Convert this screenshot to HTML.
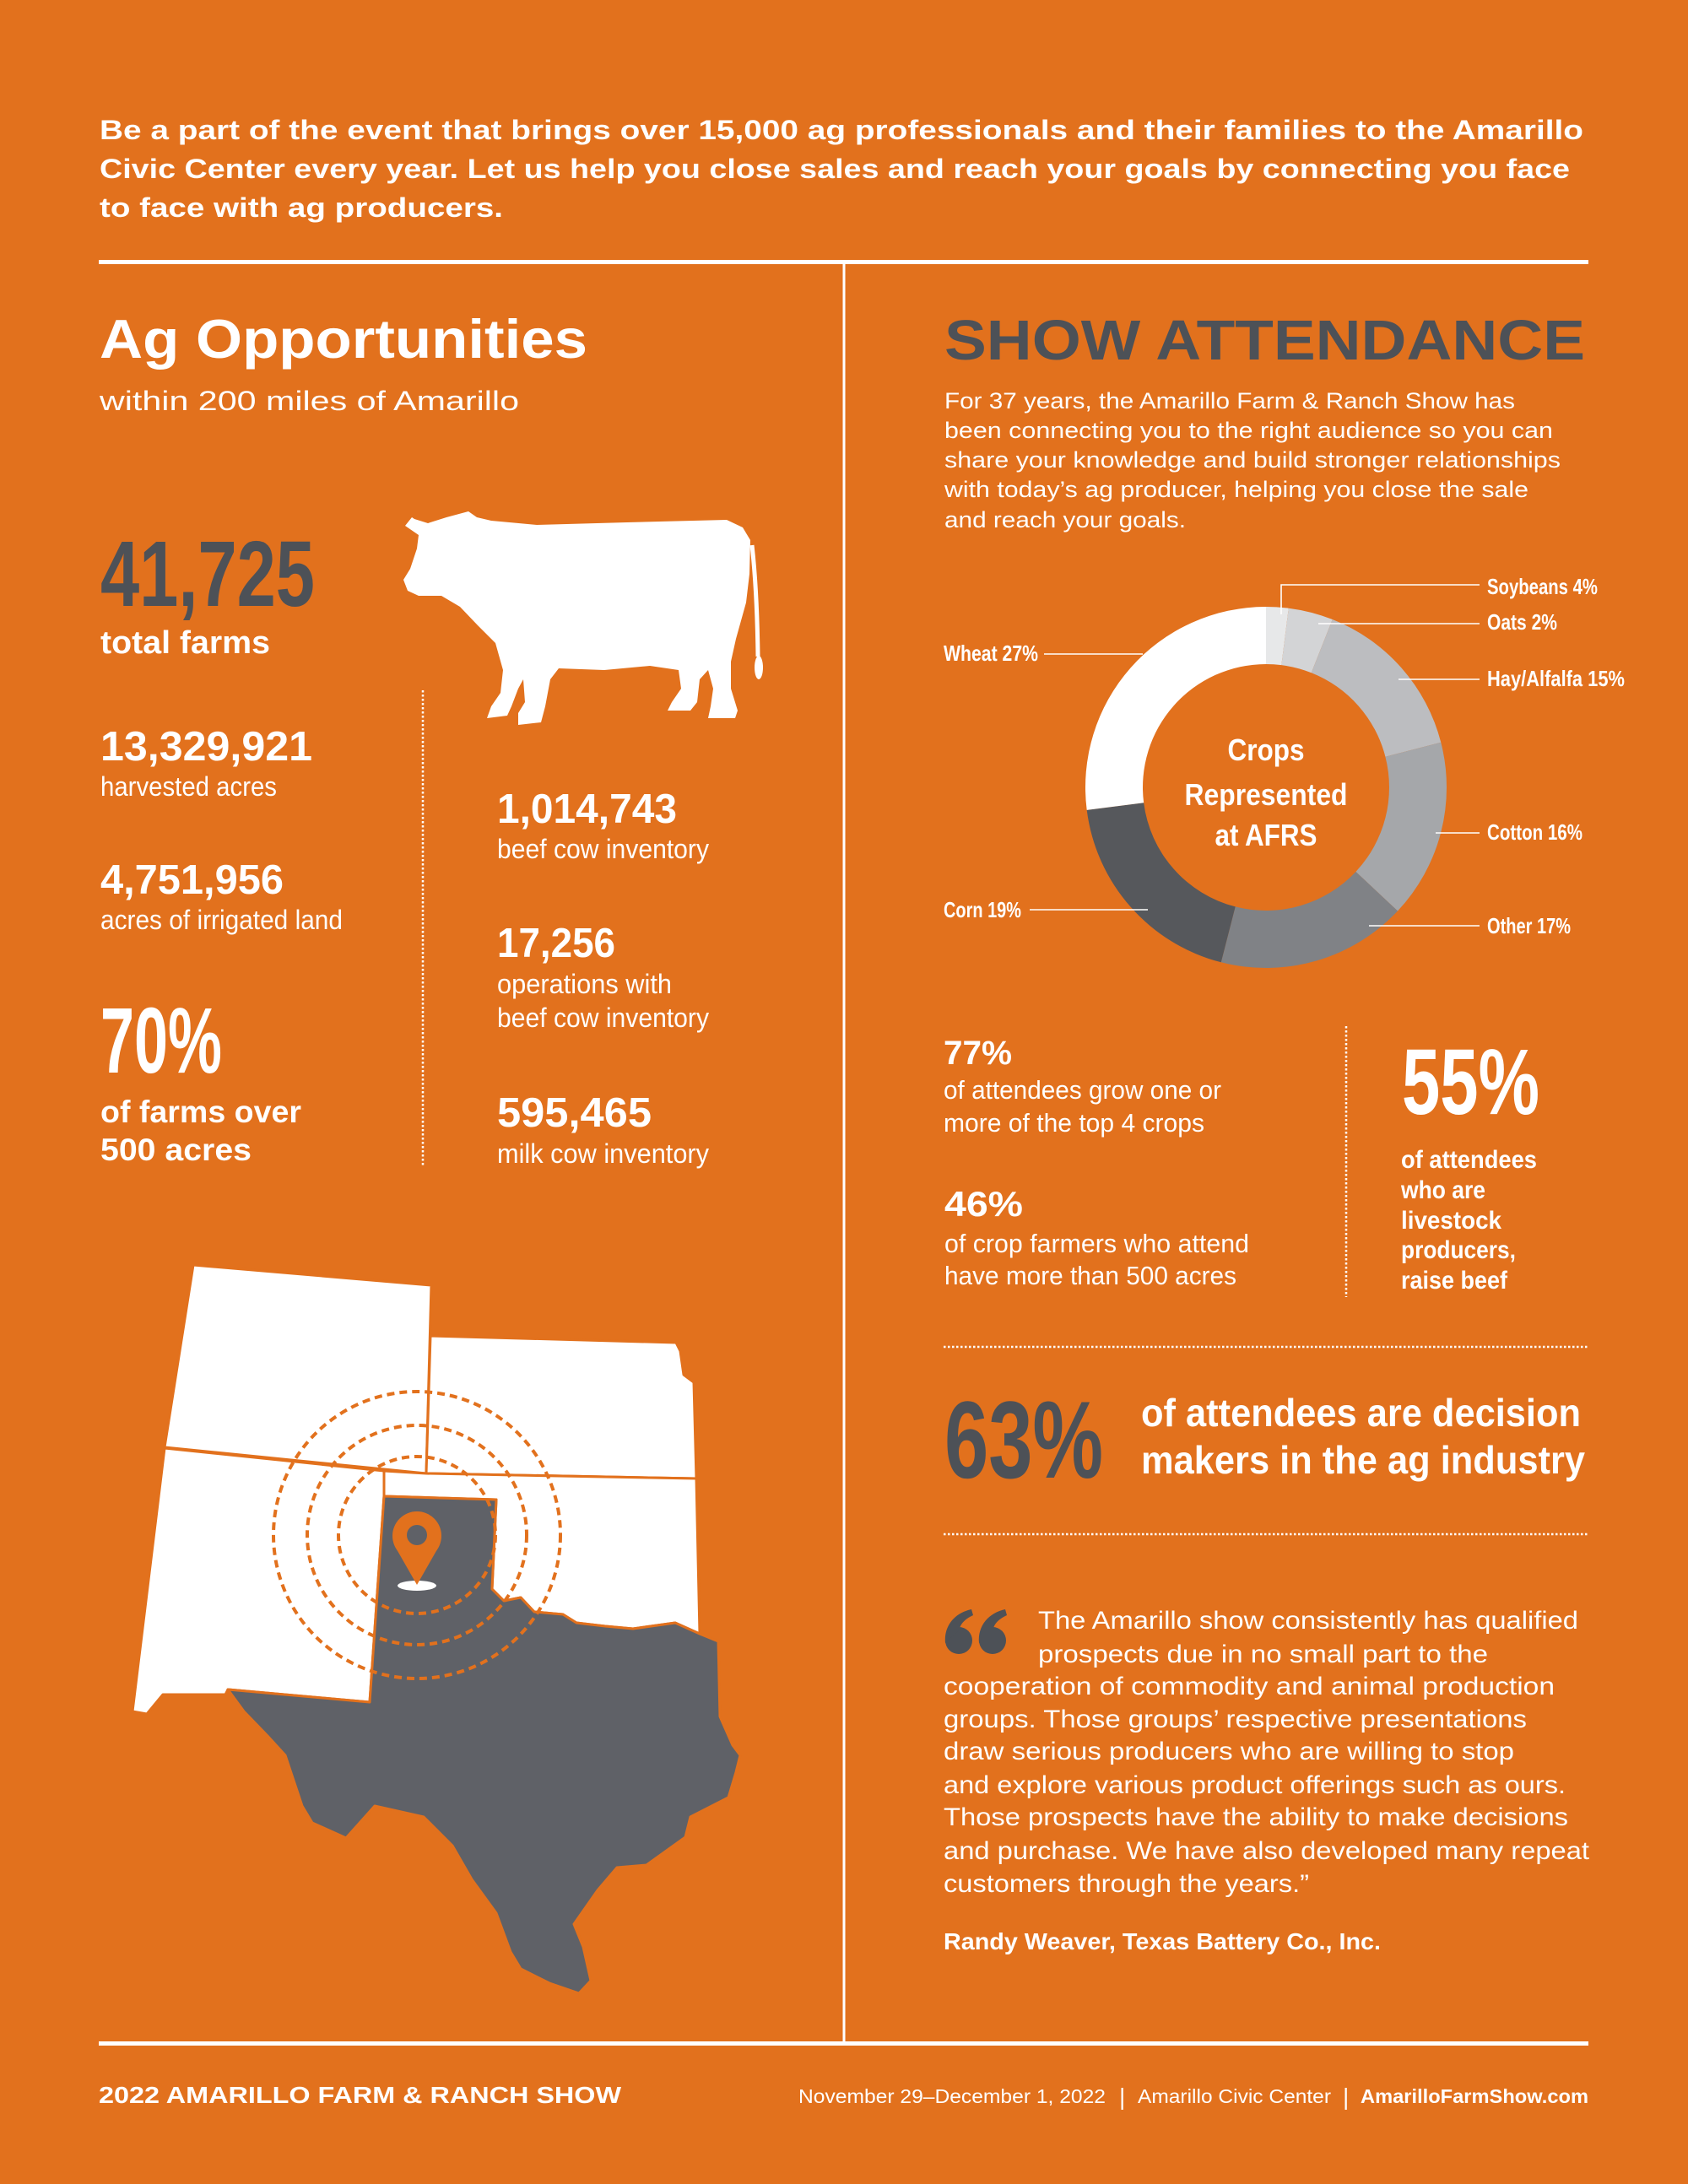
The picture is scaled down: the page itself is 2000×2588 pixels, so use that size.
<!DOCTYPE html>
<html>
<head>
<meta charset="utf-8">
<style>
html,body{margin:0;padding:0;background:#e2711d;}
svg{display:block;}
text{font-family:"Liberation Sans",sans-serif;}
.n{font-family:"Liberation Sans Narrow","Liberation Sans",sans-serif;}
.w{fill:#ffffff;}
.g{fill:#4d5157;}
.b{font-weight:bold;}
</style>
</head>
<body>
<svg width="2000" height="2588" viewBox="0 0 2000 2588" xmlns="http://www.w3.org/2000/svg">
<rect x="0" y="0" width="2000" height="2588" fill="#e2711d"/>

<!-- Intro -->
<text class="w b" x="118" y="165" font-size="32" textLength="1758" lengthAdjust="spacingAndGlyphs">Be a part of the event that brings over 15,000 ag professionals and their families to the Amarillo</text>
<text class="w b" x="118" y="211" font-size="32" textLength="1742" lengthAdjust="spacingAndGlyphs">Civic Center every year. Let us help you close sales and reach your goals by connecting you face</text>
<text class="w b" x="118" y="257" font-size="32" textLength="478" lengthAdjust="spacingAndGlyphs">to face with ag producers.</text>

<!-- Rules -->
<rect x="117" y="308" width="1765" height="5" fill="#fff"/>
<rect x="998.5" y="310" width="3" height="2112" fill="#fff"/>
<rect x="117" y="2419" width="1765" height="5" fill="#fff"/>

<!-- Left header -->
<text class="w b" x="118" y="424" font-size="65" textLength="578" lengthAdjust="spacingAndGlyphs">Ag Opportunities</text>
<text class="w" x="118" y="486" font-size="32" textLength="497" lengthAdjust="spacingAndGlyphs">within 200 miles of Amarillo</text>

<!-- Right header -->
<text class="g b" x="1119" y="426" font-size="67" textLength="759" lengthAdjust="spacingAndGlyphs">SHOW ATTENDANCE</text>
<text class="w" x="1119" y="484" font-size="27" textLength="676" lengthAdjust="spacingAndGlyphs">For 37 years, the Amarillo Farm &amp; Ranch Show has</text>
<text class="w" x="1119" y="519" font-size="27" textLength="721" lengthAdjust="spacingAndGlyphs">been connecting you to the right audience so you can</text>
<text class="w" x="1119" y="554" font-size="27" textLength="730" lengthAdjust="spacingAndGlyphs">share your knowledge and build stronger relationships</text>
<text class="w" x="1119" y="589" font-size="27" textLength="692" lengthAdjust="spacingAndGlyphs">with today’s ag producer, helping you close the sale</text>
<text class="w" x="1119" y="625" font-size="27" textLength="286" lengthAdjust="spacingAndGlyphs">and reach your goals.</text>

<!-- Cow -->
<path fill="#fff" d="M491,615 L507,620 L529,613 L555,606 L565,613 L582,617 L636,622 L743,619 L861,616 L880,625 L889,640 L888,680 L884,714 L872,757 L866,784 L866,816 L874,842 L871,851 L839,851 L842,837 L845,816 L839,794 L829,805 L826,832 L818,842 L791,842 L796,832 L807,816 L804,794 L770,789 L716,794 L662,792 L652,805 L646,837 L641,856 L614,859 L614,845 L622,832 L620,805 L614,816 L606,837 L601,848 L577,851 L582,837 L593,821 L596,794 L587,762 L566,741 L545,719 L523,706 L496,706 L483,700 L478,687 L486,674 L494,650 L496,634 L480,623 L488,613 Z"/>
<path d="M891,646 Q897,700 898,778" stroke="#fff" stroke-width="5" fill="none"/>
<ellipse cx="899" cy="791" rx="5" ry="14" fill="#fff"/>

<!-- Left stats -->
<text class="g b n" x="119" y="718" font-size="110" textLength="254" lengthAdjust="spacingAndGlyphs">41,725</text>
<text class="w b n" x="119" y="774" font-size="38" textLength="201" lengthAdjust="spacingAndGlyphs">total farms</text>
<text class="w b n" x="119" y="901" font-size="49" textLength="251" lengthAdjust="spacingAndGlyphs">13,329,921</text>
<text class="w n" x="119" y="943" font-size="32" textLength="209" lengthAdjust="spacingAndGlyphs">harvested acres</text>
<text class="w b n" x="119" y="1059" font-size="49" textLength="217" lengthAdjust="spacingAndGlyphs">4,751,956</text>
<text class="w n" x="119" y="1101" font-size="32" textLength="287" lengthAdjust="spacingAndGlyphs">acres of irrigated land</text>
<text class="w b n" x="119" y="1271" font-size="110" textLength="144" lengthAdjust="spacingAndGlyphs">70%</text>
<text class="w b n" x="119" y="1330" font-size="37" textLength="238" lengthAdjust="spacingAndGlyphs">of farms over</text>
<text class="w b n" x="119" y="1375" font-size="37" textLength="179" lengthAdjust="spacingAndGlyphs">500 acres</text>

<line x1="501" y1="818" x2="501" y2="1383" stroke="#fff" stroke-width="2.5" stroke-dasharray="2.5 2.5"/>

<text class="w b n" x="589" y="975" font-size="49" textLength="213" lengthAdjust="spacingAndGlyphs">1,014,743</text>
<text class="w n" x="589" y="1017" font-size="32" textLength="251" lengthAdjust="spacingAndGlyphs">beef cow inventory</text>
<text class="w b n" x="589" y="1134" font-size="49" textLength="140" lengthAdjust="spacingAndGlyphs">17,256</text>
<text class="w n" x="589" y="1177" font-size="32" textLength="207" lengthAdjust="spacingAndGlyphs">operations with</text>
<text class="w n" x="589" y="1217" font-size="32" textLength="251" lengthAdjust="spacingAndGlyphs">beef cow inventory</text>
<text class="w b n" x="589" y="1335" font-size="49" textLength="183" lengthAdjust="spacingAndGlyphs">595,465</text>
<text class="w n" x="589" y="1378" font-size="32" textLength="251" lengthAdjust="spacingAndGlyphs">milk cow inventory</text>

<!-- Donut -->
<path fill="#e7e8e9" d="M1500,719 A214,214 0 0 1 1526.82,720.69 L1518.30,788.15 A146,146 0 0 0 1500,787 Z"/>
<path fill="#d3d4d6" d="M1526.82,720.69 A214,214 0 0 1 1578.78,734.03 L1553.75,797.25 A146,146 0 0 0 1518.30,788.15 Z"/>
<path fill="#bcbdc0" d="M1578.78,734.03 A214,214 0 0 1 1707.28,879.78 L1641.41,896.69 A146,146 0 0 0 1553.75,797.25 Z"/>
<path fill="#a5a7aa" d="M1707.28,879.78 A214,214 0 0 1 1656.00,1079.49 L1606.43,1032.94 A146,146 0 0 0 1641.41,896.69 Z"/>
<path fill="#808286" d="M1656.00,1079.49 A214,214 0 0 1 1446.78,1140.28 L1463.69,1074.41 A146,146 0 0 0 1606.43,1032.94 Z"/>
<path fill="#56585c" d="M1446.78,1140.28 A214,214 0 0 1 1287.69,959.82 L1355.15,951.30 A146,146 0 0 0 1463.69,1074.41 Z"/>
<path fill="#ffffff" d="M1287.69,959.82 A214,214 0 0 1 1500,719 L1500,787 A146,146 0 0 0 1355.15,951.30 Z"/>

<text class="w b n" x="1500" y="901" font-size="36" text-anchor="middle" textLength="91" lengthAdjust="spacingAndGlyphs">Crops</text>
<text class="w b n" x="1500" y="954" font-size="36" text-anchor="middle" textLength="193" lengthAdjust="spacingAndGlyphs">Represented</text>
<text class="w b n" x="1500" y="1002" font-size="36" text-anchor="middle" textLength="121" lengthAdjust="spacingAndGlyphs">at AFRS</text>

<!-- Donut leaders -->
<g stroke="#fff" stroke-width="1.6" fill="none">
<polyline points="1518,728 1518,693 1753,693"/>
<line x1="1562" y1="739" x2="1753" y2="739"/>
<line x1="1657" y1="805" x2="1753" y2="805"/>
<line x1="1701" y1="987" x2="1753" y2="987"/>
<line x1="1622" y1="1097" x2="1753" y2="1097"/>
<line x1="1237" y1="775" x2="1354" y2="775"/>
<line x1="1220" y1="1078" x2="1360" y2="1078"/>
</g>
<text class="w b n" x="1762" y="704" font-size="26" textLength="131" lengthAdjust="spacingAndGlyphs">Soybeans 4%</text>
<text class="w b n" x="1762" y="746" font-size="26" textLength="83" lengthAdjust="spacingAndGlyphs">Oats 2%</text>
<text class="w b n" x="1762" y="813" font-size="26" textLength="163" lengthAdjust="spacingAndGlyphs">Hay/Alfalfa  15%</text>
<text class="w b n" x="1762" y="995" font-size="26" textLength="113" lengthAdjust="spacingAndGlyphs">Cotton 16%</text>
<text class="w b n" x="1762" y="1106" font-size="26" textLength="99" lengthAdjust="spacingAndGlyphs">Other 17%</text>
<text class="w b n" x="1118" y="783" font-size="26" textLength="112" lengthAdjust="spacingAndGlyphs">Wheat 27%</text>
<text class="w b n" x="1118" y="1087" font-size="26" textLength="92" lengthAdjust="spacingAndGlyphs">Corn 19%</text>

<!-- Right stats -->
<text class="w b n" x="1118" y="1261" font-size="40" textLength="81" lengthAdjust="spacingAndGlyphs">77%</text>
<text class="w n" x="1118" y="1302" font-size="31" textLength="329" lengthAdjust="spacingAndGlyphs">of attendees grow one or</text>
<text class="w n" x="1118" y="1341" font-size="31" textLength="309" lengthAdjust="spacingAndGlyphs">more of the top 4 crops</text>
<text class="w b n" x="1119" y="1441" font-size="42" textLength="93" lengthAdjust="spacingAndGlyphs">46%</text>
<text class="w n" x="1119" y="1484" font-size="31" textLength="361" lengthAdjust="spacingAndGlyphs">of crop farmers who attend</text>
<text class="w n" x="1119" y="1522" font-size="31" textLength="346" lengthAdjust="spacingAndGlyphs">have more than 500 acres</text>

<line x1="1595" y1="1216" x2="1595" y2="1537" stroke="#fff" stroke-width="2.5" stroke-dasharray="2.5 2.5"/>

<text class="w b n" x="1661" y="1320" font-size="110" textLength="163" lengthAdjust="spacingAndGlyphs">55%</text>
<text class="w b n" x="1660" y="1384" font-size="30" textLength="161" lengthAdjust="spacingAndGlyphs">of attendees</text>
<text class="w b n" x="1660" y="1420" font-size="30" textLength="100" lengthAdjust="spacingAndGlyphs">who are</text>
<text class="w b n" x="1660" y="1456" font-size="30" textLength="119" lengthAdjust="spacingAndGlyphs">livestock</text>
<text class="w b n" x="1660" y="1491" font-size="30" textLength="136" lengthAdjust="spacingAndGlyphs">producers,</text>
<text class="w b n" x="1660" y="1527" font-size="30" textLength="126" lengthAdjust="spacingAndGlyphs">raise beef</text>

<line x1="1118" y1="1596" x2="1883" y2="1596" stroke="#fff" stroke-width="2.5" stroke-dasharray="2.5 2.5"/>

<text class="g b n" x="1119" y="1751" font-size="130" textLength="188" lengthAdjust="spacingAndGlyphs">63%</text>
<text class="w b n" x="1352" y="1690" font-size="46" textLength="521" lengthAdjust="spacingAndGlyphs">of attendees are decision</text>
<text class="w b n" x="1352" y="1746" font-size="46" textLength="526" lengthAdjust="spacingAndGlyphs">makers in the ag industry</text>

<line x1="1118" y1="1818" x2="1883" y2="1818" stroke="#fff" stroke-width="2.5" stroke-dasharray="2.5 2.5"/>

<!-- Quote -->
<g fill="#4d5157">
<circle cx="1136" cy="1944" r="16"/>
<path d="M1120,1947 C1118,1926 1132,1911 1151,1907 L1153,1914 C1142,1919 1137,1926 1137,1931 Z"/>
<circle cx="1176" cy="1944" r="16"/>
<path d="M1160,1947 C1158,1926 1172,1911 1191,1907 L1193,1914 C1182,1919 1177,1926 1177,1931 Z"/>
</g>
<text class="w" x="1230" y="1930" font-size="30" textLength="640" lengthAdjust="spacingAndGlyphs">The Amarillo show consistently has qualified</text>
<text class="w" x="1230" y="1970" font-size="30" textLength="533" lengthAdjust="spacingAndGlyphs">prospects due in no small part to the</text>
<text class="w" x="1118" y="2008" font-size="30" textLength="724" lengthAdjust="spacingAndGlyphs">cooperation of commodity and animal production</text>
<text class="w" x="1118" y="2047" font-size="30" textLength="691" lengthAdjust="spacingAndGlyphs">groups. Those groups’ respective presentations</text>
<text class="w" x="1118" y="2085" font-size="30" textLength="676" lengthAdjust="spacingAndGlyphs">draw serious producers who are willing to stop</text>
<text class="w" x="1118" y="2125" font-size="30" textLength="737" lengthAdjust="spacingAndGlyphs">and explore various product offerings such as ours.</text>
<text class="w" x="1118" y="2163" font-size="30" textLength="740" lengthAdjust="spacingAndGlyphs">Those prospects have the ability to make decisions</text>
<text class="w" x="1118" y="2203" font-size="30" textLength="765" lengthAdjust="spacingAndGlyphs">and purchase. We have also developed many repeat</text>
<text class="w" x="1118" y="2242" font-size="30" textLength="433" lengthAdjust="spacingAndGlyphs">customers through the years.”</text>
<text class="w b" x="1118" y="2310" font-size="28" textLength="518" lengthAdjust="spacingAndGlyphs">Randy Weaver, Texas Battery Co., Inc.</text>

<!-- Map -->
<g stroke="#e2711d" stroke-width="3" stroke-linejoin="round">
<path fill="#fff" d="M229,1499 L511,1523 L505,1746 L195,1715 Z"/>
<path fill="#fff" d="M510,1583 L801,1591 L806,1601 L810,1629 L822,1638 L825,1752 L505,1746 Z"/>
<path fill="#fff" d="M195,1716 L455,1743 L455,1773 L438,2017 L270,2002 L267,2008 L193,2008 L174,2031 L157,2028 Z"/>
<path fill="#fff" d="M455,1743 L505,1746 L825,1752 L829,1936 L800,1923 L750,1930 L717,1927 L683,1923 L667,1913 L633,1910 L617,1893 L597,1897 L583,1883 L588,1777 L455,1773 Z"/>
<path fill="#5f6167" d="M455,1773 L588,1777 L583,1883 L597,1897 L617,1893 L633,1910 L667,1913 L683,1923 L717,1927 L750,1930 L800,1923 L829,1936 L851,1945 L853,2034 L868,2068 L877,2080 L872,2100 L863,2130 L818,2153 L812,2177 L766,2210 L731,2213 L708,2240 L680,2280 L691,2307 L700,2347 L686,2362 L651,2350 L617,2333 L605,2313 L588,2267 L559,2227 L536,2187 L502,2153 L444,2140 L410,2178 L370,2160 L358,2140 L338,2080 L317,2057 L289,2028 L270,2002 L438,2017 Z"/>
</g>
<g fill="none" stroke="#e2711d" stroke-width="4" stroke-dasharray="9 6">
<circle cx="494" cy="1819" r="93"/>
<circle cx="494" cy="1819" r="130"/>
<circle cx="494" cy="1819" r="170"/>
</g>
<ellipse cx="494" cy="1879" rx="23" ry="6" fill="#fff"/>
<circle cx="494" cy="1820" r="29" fill="#e2711d"/>
<path d="M470,1836 L518,1836 L494,1878 Z" fill="#e2711d"/>
<circle cx="494" cy="1819" r="12" fill="#5f6167"/>

<!-- Footer -->
<text class="w b" x="117" y="2492" font-size="28" textLength="619" lengthAdjust="spacingAndGlyphs">2022 AMARILLO FARM &amp; RANCH SHOW</text>
<text class="w n" x="946" y="2492" font-size="23" textLength="364" lengthAdjust="spacingAndGlyphs">November 29–December 1, 2022</text>
<text class="w" x="1326" y="2494" font-size="28">|</text>
<text class="w n" x="1348" y="2492" font-size="23" textLength="229" lengthAdjust="spacingAndGlyphs">Amarillo Civic Center</text>
<text class="w" x="1591" y="2494" font-size="28">|</text>
<text class="w b" x="1612" y="2492" font-size="23" textLength="270" lengthAdjust="spacingAndGlyphs">AmarilloFarmShow.com</text>
</svg>
</body>
</html>
